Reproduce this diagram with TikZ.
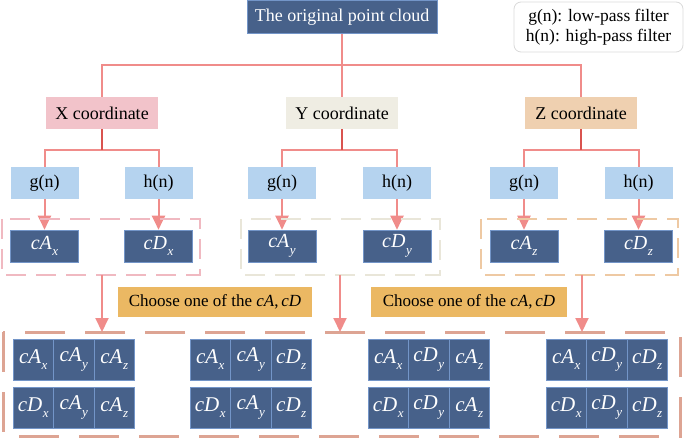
\documentclass[tikz,border=0pt]{standalone}
\usepackage{fontspec}
\setmainfont{Liberation Serif}
\usetikzlibrary{arrows.meta}
\definecolor{darkbox}{HTML}{47618A}
\definecolor{darkedge}{HTML}{7395C8}
\definecolor{linkred}{HTML}{F08C8A}
\definecolor{deepred}{HTML}{D9534F}
\definecolor{filterfill}{HTML}{B5D3EF}
\definecolor{xfill}{HTML}{F2C3CA}
\definecolor{yfill}{HTML}{EFEDE3}
\definecolor{zfill}{HTML}{EFD0B0}
\definecolor{xdash}{HTML}{F0B9C1}
\definecolor{ydash}{HTML}{E9E6D9}
\definecolor{zdash}{HTML}{EEC9A3}
\definecolor{bdash}{HTML}{DDA493}
\definecolor{choosefill}{HTML}{EBB863}
\definecolor{legendedge}{HTML}{D9D9D9}
\newcommand\cv[2]{\textit{c#1}\kern0.5pt\raisebox{-0.7ex}{\fontsize{13}{13}\selectfont\textit{#2}}}
\begin{document}
\begin{tikzpicture}[x=1pt,y=-1pt,
  darknode/.style={draw=darkedge,line width=0.6pt,fill=darkbox,text=white,inner sep=0pt,font=\fontsize{20}{20}\selectfont},
  coordbox/.style={inner sep=0pt,minimum width=112pt,minimum height=32pt,font=\fontsize{18}{18}\selectfont},
  filterbox/.style={fill=filterfill,inner sep=0pt,minimum width=68pt,minimum height=32pt,font=\fontsize{18}{18}\selectfont},
  coefbox/.style={darknode,minimum width=68pt,minimum height=32pt},
  cellbox/.style={darknode,minimum width=40.5pt,minimum height=41pt,font=\fontsize{21}{21}\selectfont},
  choosebox/.style={fill=choosefill,inner sep=0pt,minimum height=30pt,font=\fontsize{17}{17}\selectfont},
  link/.style={draw=linkred,line width=2pt},
  deeplink/.style={draw=deepred,line width=2pt},
  arrowlink/.style={draw=linkred,line width=2pt,-{Triangle[width=13pt,length=14pt]}},
  smalldash/.style={line width=2.5pt,dash pattern=on 20pt off 10pt},
  bigdash/.style={draw=bdash,line width=3pt,dash pattern=on 40pt off 20pt},
]
\useasboundingbox (0,0) rectangle (685,438);

% top box and legend
\node[darknode,minimum width=190pt,minimum height=33pt,font=\fontsize{18}{18}\selectfont] (top) at (342,17) {The original point cloud};
\node[draw=legendedge,line width=0.8pt,rounded corners=7pt,minimum width=169pt,minimum height=50pt,inner sep=0pt,align=center,font=\fontsize{17.5}{20}\selectfont] (legend) at (598.5,27) {g(n): low-pass filter\\h(n): high-pass filter};

% coordinate boxes
\node[coordbox,fill=xfill] (X) at (102,113) {X coordinate};
\node[coordbox,fill=yfill] (Y) at (342,113) {Y coordinate};
\node[coordbox,fill=zfill] (Z) at (581,113) {Z coordinate};

\coordinate (tb) at (342,65);
\draw[link] (top.south) -- (Y.north);
\draw[link] (X.north) |- (tb) -| (Z.north);

% filters
\node[filterbox] (gx) at (44.5,183) {g(n)};
\node[filterbox] (hx) at (158.5,183) {h(n)};
\node[filterbox] (gy) at (282,183) {g(n)};
\node[filterbox] (hy) at (397,183) {h(n)};
\node[filterbox] (gz) at (524,183) {g(n)};
\node[filterbox] (hz) at (638.5,183) {h(n)};

\coordinate (bx) at (102,150);
\coordinate (by) at (342,150);
\coordinate (bz) at (581,150);
\draw[link] (gx.north) |- (bx) -| (hx.north);
\draw[link] (gy.north) |- (by) -| (hy.north);
\draw[link] (gz.north) |- (bz) -| (hz.north);
\draw[deeplink] (X.south) -- (bx);
\draw[deeplink] (Y.south) -- (by);
\draw[deeplink] (Z.south) -- (bz);

% coefficients
\node[coefbox] (ax) at (44.5,246) {\cv{A}{x}};
\node[coefbox] (dx) at (158.5,246) {\cv{D}{x}};
\node[coefbox] (ay) at (282,246) {\cv{A}{y}};
\node[coefbox] (dy) at (397,246) {\cv{D}{y}};
\node[coefbox] (az) at (524,246) {\cv{A}{z}};
\node[coefbox] (dz) at (638.5,246) {\cv{D}{z}};

\draw[arrowlink] (gx.south) -- (ax.north);
\draw[arrowlink] (hx.south) -- (dx.north);
\draw[arrowlink] (gy.south) -- (ay.north);
\draw[arrowlink] (hy.south) -- (dy.north);
\draw[arrowlink] (gz.south) -- (az.north);
\draw[arrowlink] (hz.south) -- (dz.north);

% dashed groups
\draw[smalldash,draw=xdash] (2,219) rectangle (200,275);
\draw[smalldash,draw=ydash] (241,219) rectangle (440,275);
\draw[smalldash,draw=zdash] (481,219) rectangle (678,275);

% choose boxes
\node[choosebox,minimum width=194pt] (c1) at (215,302) {Choose one of the \textit{cA},\,\textit{cD}};
\node[choosebox,minimum width=196pt] (c2) at (469,302) {Choose one of the \textit{cA},\,\textit{cD}};

% bottom dashed box and arrows
\draw[bigdash] (3,332) rectangle (680,436);
\coordinate (sx) at (102,275);
\coordinate (ex) at (102,332);
\coordinate (sy) at (340,275);
\coordinate (ey) at (340,332);
\coordinate (sz) at (582,275);
\coordinate (ez) at (582,332);
\draw[arrowlink] (sx) -- (ex);
\draw[arrowlink] (sy) -- (ey);
\draw[arrowlink] (sz) -- (ez);

% cells
\foreach \gx/\la/\lb/\lc/\ma/\mb/\mc [count=\g] in {
  13/A/A/A/D/A/A,
  190/A/A/D/D/A/D,
  368/A/D/A/D/D/A,
  546/A/D/D/D/D/D} {
  \node[cellbox] (r\g a1) at (\gx+20.25,359.5) {\cv{\la}{x}};
  \node[cellbox] (r\g a2) at (\gx+60.75,359.5) {\cv{\lb}{y}};
  \node[cellbox] (r\g a3) at (\gx+101.25,359.5) {\cv{\lc}{z}};
  \node[cellbox] (r\g b1) at (\gx+20.25,407.5) {\cv{\ma}{x}};
  \node[cellbox] (r\g b2) at (\gx+60.75,407.5) {\cv{\mb}{y}};
  \node[cellbox] (r\g b3) at (\gx+101.25,407.5) {\cv{\mc}{z}};
}
\end{tikzpicture}
\end{document}
